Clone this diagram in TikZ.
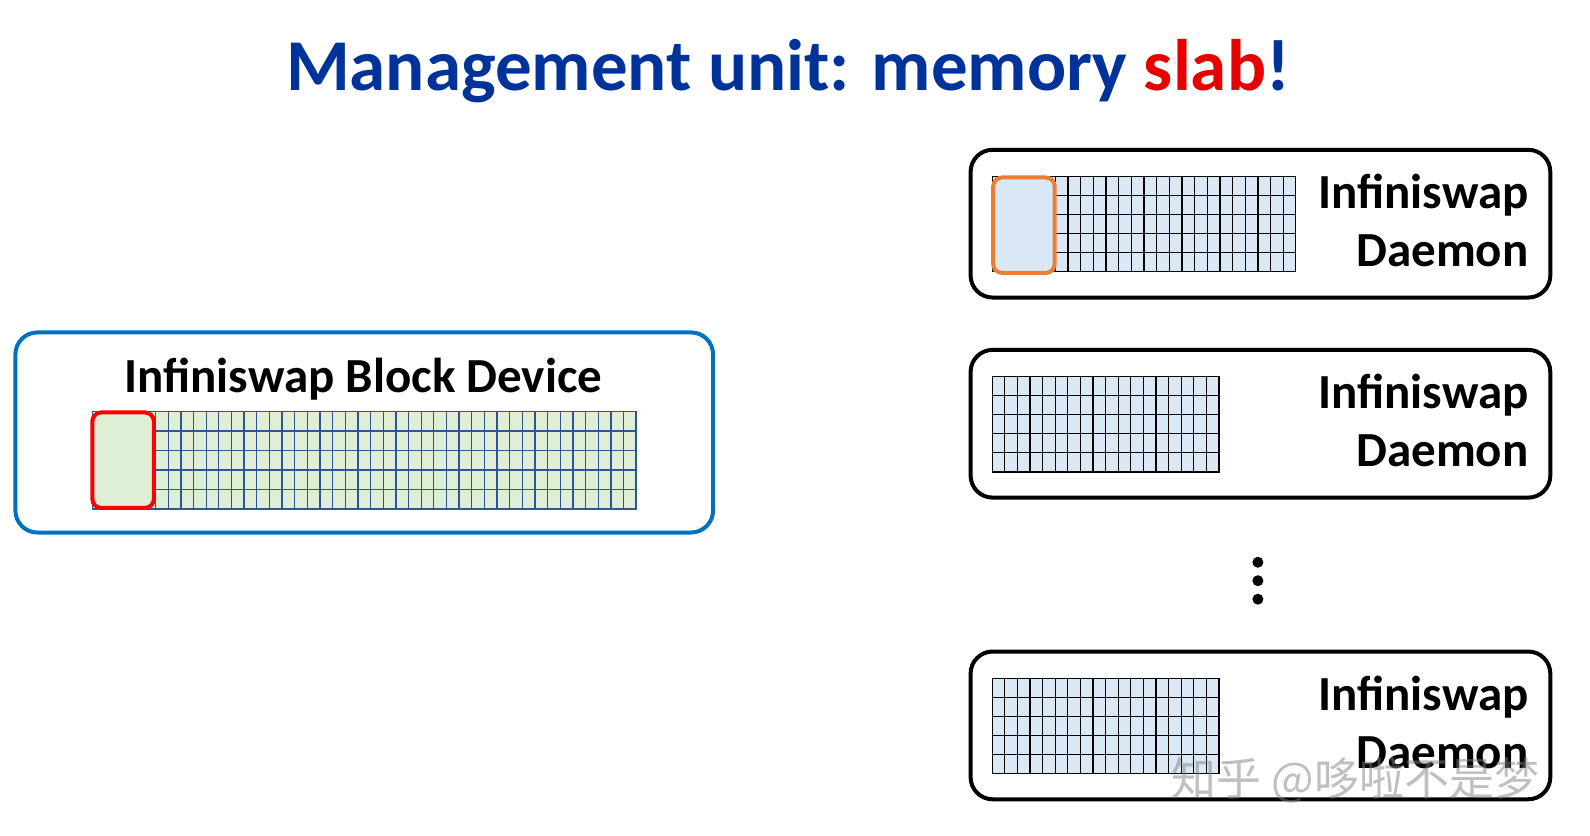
\documentclass[tikz,border=0pt]{standalone}
\usepackage{fontspec}
\setmainfont{Carlito}
\newfontfamily\cjk{Noto Sans CJK SC}
\definecolor{titleblue}{RGB}{0,51,153}
\definecolor{slabred}{RGB}{230,0,0}
\definecolor{devblue}{RGB}{0,112,192}
\definecolor{gridgreen}{RGB}{222,239,214}
\definecolor{gridblue}{RGB}{218,232,246}
\definecolor{gridline}{RGB}{47,85,151}
\definecolor{orng}{RGB}{237,125,49}
\begin{document}
\begin{tikzpicture}[x=1.026pt,y=-1.026pt,
  box/.style={line width=4pt,rounded corners=22pt},
  lbl/.style={font=\bfseries\fontsize{49}{49}\selectfont,anchor=base east,inner sep=0pt},
  slab/.style={line width=4pt,rounded corners=9pt}]
\useasboundingbox (0,0) rectangle (1549.7,814.8);
% title
\node[font=\bfseries\fontsize{73}{73}\selectfont,anchor=base,text=titleblue,inner sep=0pt] (title) at (768,88) {Management unit: memory \textcolor{slabred}{slab}!};
% block device
\draw[box,devblue] (15,324) rectangle (695,519);
\node[font=\bfseries\fontsize{49}{49}\selectfont,anchor=base,inner sep=0pt] (bd) at (354,383) {Infiniswap Block Device};
\fill[gridgreen] (90,401) rectangle (620,496);
\foreach \i in {1,...,42} \draw[gridline,line width=1.3pt] (90+\i*12.326,401) -- (90+\i*12.326,496);
\foreach \j in {1,...,4} \draw[gridline,line width=1.3pt] (90,401+\j*19) -- (620,401+\j*19);
\draw[gridline,line width=1.3pt] (90,401) rectangle (620,496);
\draw[slab,red,fill=gridgreen] (90,402) rectangle (150,495);
% daemons
\foreach \t/\w/\n/\ya/\yb in {146/296/24/203/260, 341/221/18/398/455, 635/221/18/692/749}{
  \draw[box,black] (946,\t) rectangle (1511,\t+144);
  \fill[gridblue] (967,\t+26) rectangle (967+\w,\t+119);
  \draw[black,line width=1.2pt] (967,\t+26) rectangle (967+\w,\t+119);
  \foreach \i in {1,...,\n} \draw[black,line width=1.2pt] (967+\i*\w/\n,\t+26) -- (967+\i*\w/\n,\t+119);
  \foreach \j in {1,...,4} \draw[black,line width=1.2pt] (967,\t+26+\j*18.6) -- (967+\w,\t+26+\j*18.6);
  \node[lbl] at (1490,\ya) {Infiniswap};
  \node[lbl] at (1490,\yb) {Daemon};
}
\draw[slab,orng,fill=gridblue] (968,173) rectangle (1028,266);
% dots
\foreach \y in {548,566,584} \fill (1226,\y) circle (5.5pt);
% watermark
\node[font=\cjk\fontsize{45}{45}\selectfont,text=gray,opacity=0.5,anchor=base west,inner sep=0pt] (wm) at (1142,775) {知乎 @哆啦不是梦};
\end{tikzpicture}
\end{document}
